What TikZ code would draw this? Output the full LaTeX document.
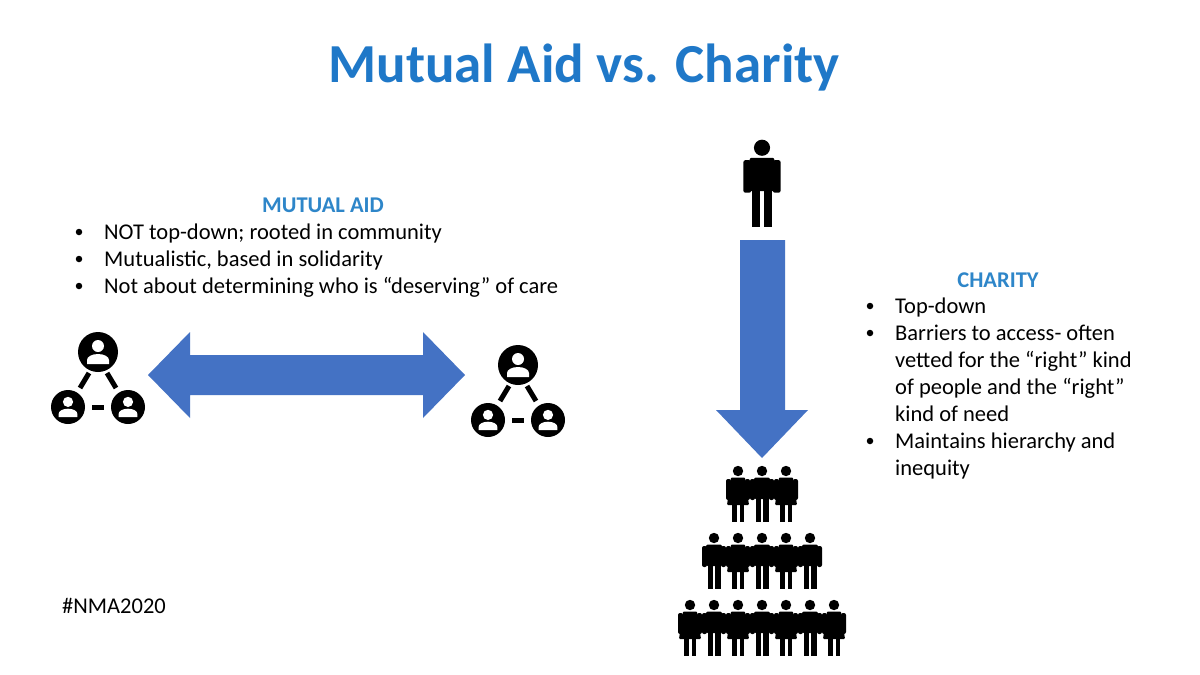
\documentclass[tikz,border=0pt]{standalone}
\usepackage{fontspec}
\setmainfont{Carlito}
\begin{document}
\begin{tikzpicture}[x=1pt,y=-1pt]
\definecolor{ttl}{HTML}{1F78C8}
\definecolor{arr}{HTML}{4472C4}
\definecolor{hd}{HTML}{2E86C9}
\tikzset{
 body/.style={font=\fontsize{22.5}{27}\selectfont,anchor=north west,inner sep=0pt,align=left},
 head/.style={font=\bfseries\fontsize{22.5}{26}\selectfont,text=hd,inner sep=0pt},
 bullet/.style={circle,fill=black,inner sep=0pt,minimum size=6.5pt},
 person/.pic={
  \fill (0,5) circle (5.2);
  \fill[rounded corners=2pt] (-8,11.5) rectangle (8,33);
  \fill[rounded corners=2pt] (-12,13) rectangle (-7,34);
  \fill[rounded corners=2pt] (7,13) rectangle (12,34);
  \fill (-6.5,32) rectangle (-1,56);
  \fill (1,32) rectangle (6.5,56);},
 woman/.pic={
  \fill (0,5) circle (5.2);
  \fill[rounded corners=1pt] (-7,11.5) -- (7,11.5) -- (11,39) -- (-11,39) -- cycle;
  \fill[rounded corners=2pt] (-12,13) rectangle (-7,34);
  \fill[rounded corners=2pt] (7,13) rectangle (12,34);
  \fill (-6,37) rectangle (-1.5,56);
  \fill (1.5,37) rectangle (6,56);},
 member/.pic={
  \fill (0,0) circle (1);
  \fill[white] (0,-0.3) circle (0.3);
  \fill[white] (-0.55,0.6) -- (-0.55,0.4) arc (180:360:0.55 and 0.3) -- (0.55,0.6) -- cycle;}
}
\useasboundingbox (0,0) rectangle (1200,675);
\fill[white] (0,0) rectangle (1200,675);
\node[font=\bfseries\fontsize{55}{60}\selectfont,text=ttl] (title) at (584,68) {Mutual Aid vs. Charity};

% mutual aid text
\node[head] (mah) at (323,205) {MUTUAL AID};
\node[body] (ma) at (104,224) {NOT top-down; rooted in community\\Mutualistic, based in solidarity\\Not about determining who is “deserving” of care};
\foreach \y in {232,259,286} \node[bullet] at (79,\y) {};

% charity text
\node[head] (chh) at (998,280) {CHARITY};
\node[body] (ch) at (895,298) {Top-down\\Barriers to access- often\\vetted for the “right” kind\\of people and the “right”\\kind of need\\Maintains hierarchy and\\inequity};
\foreach \y in {306,333,441} \node[bullet] at (870,\y) {};

\node[font=\fontsize{22.5}{26}\selectfont,anchor=west,inner sep=0pt] (tag) at (62,606) {\#NMA2020};

% double arrow
\fill[arr] (148,375) -- (190,332) -- (190,355) -- (423,355) -- (423,332) -- (465,375) -- (423,418) -- (423,395) -- (190,395) -- (190,418) -- cycle;
% down arrow
\fill[arr] (740,240) -- (785,240) -- (785,410) -- (808,410) -- (762,458) -- (716,410) -- (740,410) -- cycle;

% community icons
\foreach \cx/\cy in {98/352,518/365}{
 \begin{scope}[shift={(\cx,\cy)}]
  \draw[line width=5pt] (-9,21) -- (-18,36);
  \draw[line width=5pt] (9,21) -- (18,36);
  \draw[line width=5pt] (-6,55) -- (6,55);
  \pic[scale=20] at (0,0) {member};
  \pic[scale=17] at (-30,55) {member};
  \pic[scale=17] at (30,55) {member};
 \end{scope}}

% top person
\pic[scale=1.55] at (762,140) {person};
% pyramid
\pic at (738,466) {woman};
\pic at (762,466) {person};
\pic at (786,466) {woman};
\foreach \x/\t in {714/person,738/woman,762/person,786/woman,810/person} \pic at (\x,533) {\t};
\foreach \x/\t in {690/woman,714/person,738/woman,762/person,786/woman,810/person,834/woman} \pic at (\x,600) {\t};
\end{tikzpicture}
\end{document}
